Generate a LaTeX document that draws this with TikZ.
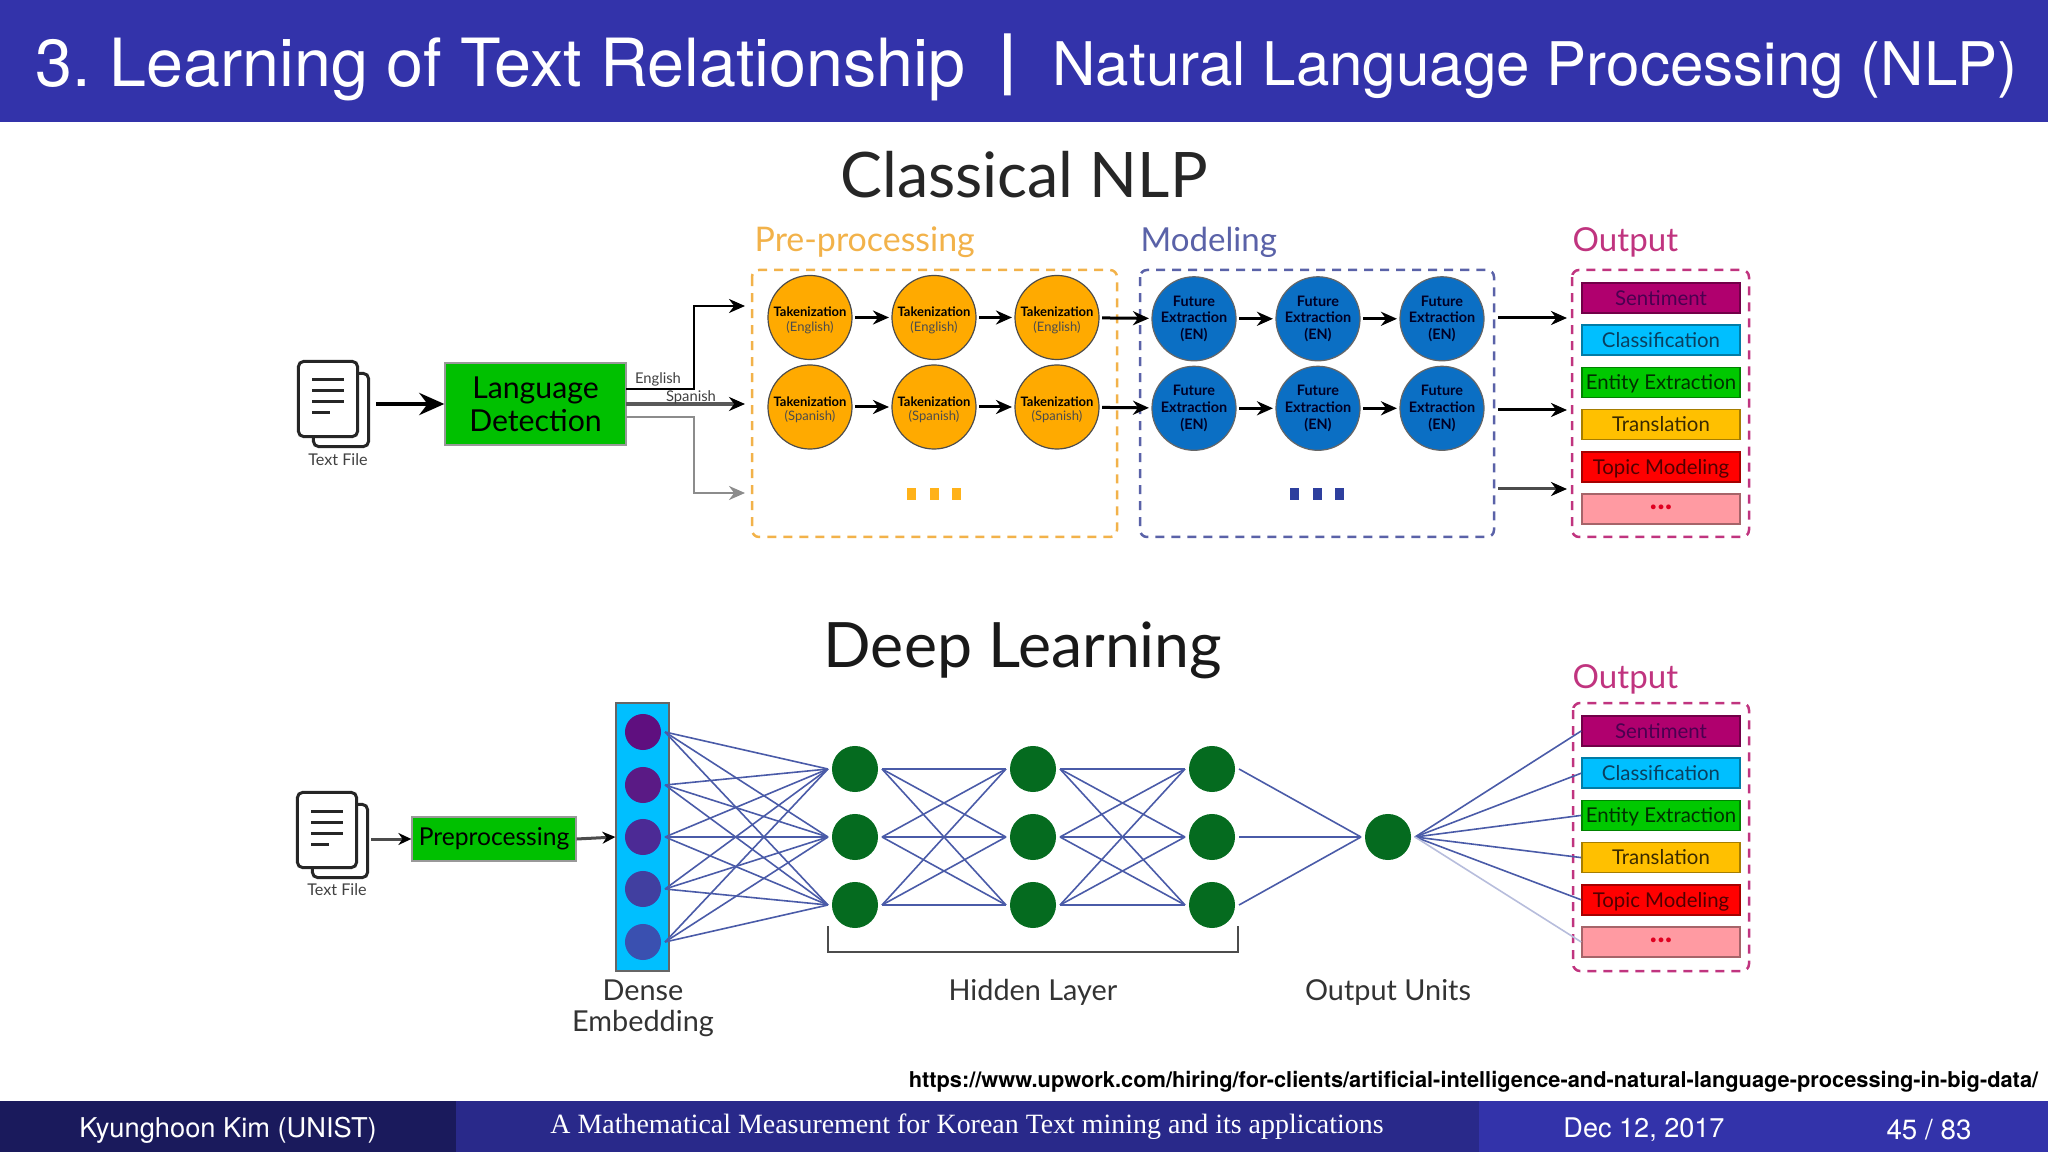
\documentclass[tikz,border=0pt]{standalone}
\usepackage{fontspec}
\usetikzlibrary{positioning,arrows.meta}
\newfontfamily\ralefont{Lato}
\newfontfamily\helvfont{TeX Gyre Heros}
\newfontfamily\slidefont{Liberation Serif}
\newcommand{\fsz}[1]{\fontsize{#1}{#1}\selectfont}
\newcommand{\moredots}{\raisebox{2pt}{\fsz{9}\textbf{...}}}
\definecolor{headblue}{HTML}{3333AA}
\definecolor{midblue}{HTML}{29298A}
\definecolor{darkblue}{HTML}{1A1A5C}
\definecolor{preorange}{HTML}{F2B24A}
\definecolor{tokorange}{HTML}{FFAA00}
\definecolor{modblue}{HTML}{5A62A8}
\definecolor{featblue}{HTML}{0B6FC4}
\definecolor{outpink}{HTML}{C0347F}
\definecolor{langgreen}{HTML}{00C000}
\definecolor{netgreen}{HTML}{056B1F}
\definecolor{netline}{HTML}{4A5BA8}
\definecolor{densecyan}{HTML}{00BFFF}
\definecolor{dotblue}{HTML}{2E3F9E}
\tikzset{
  arr/.style={draw=black, line width=.03cm, -{Stealth[length=.16cm,width=.14cm,color=black]}},
  smallarr/.style={draw=black!70, line width=.03cm, -{Stealth[length=.13cm,width=.12cm,color=black]}},
  bigarr/.style={draw=black, line width=.04cm, -{Stealth[length=.25cm,width=.22cm]}},
  sectlabel/.style={anchor=base west, inner sep=0pt, font=\ralefont\fsz{9.4}},
  dashbox/.style={draw, dashed, dash pattern=on .09cm off .07cm, line width=.025cm, rounded corners=.07cm},
  tok/.style={circle, draw=black!70, fill=tokorange, line width=.012cm, minimum size=.84cm, inner sep=0pt, outer sep=.03cm, align=center, font=\ralefont\fsz{3.7}},
  feat/.style={circle, draw=black!60, fill=featblue, line width=.012cm, minimum size=.84cm, inner sep=0pt, outer sep=.03cm, align=center, text=black!85!blue, font=\ralefont\bfseries\fontsize{4.1}{4.75}\selectfont},
  outitem/.style={rectangle, draw=fillc!65!black, line width=.015cm, minimum width=1.58cm, minimum height=.3cm, inner sep=0pt, text height=4.2pt, text depth=0pt, font=\ralefont\fsz{5.8}},
  netnode/.style={circle, fill=netgreen, minimum size=.46cm, inner sep=0pt, outer sep=.04cm},
  netedge/.style={draw=netline, line width=.016cm},
  docpage/.style={rectangle, draw=black!85, fill=white, line width=.03cm, rounded corners=.05cm, inner sep=0pt},
  capt/.style={inner sep=0pt, align=center, text=black!80, font=\ralefont\fontsize{8.2}{8.9}\selectfont},
}
% stack of result boxes, used twice
\newcommand{\outstack}[2]{
  \foreach \k/\lbl/\fc/\tc in {1/Sentiment/B0006E/4A0050, 2/Classification/00BFFF/0A3F5F, 3/Entity Extraction/00C800/003000, 4/Translation/FFC000/3A2A00, 5/Topic Modeling/FF0000/500000, 6/\moredots/FF9AA2/E00020} {
    \definecolor{fillc}{HTML}{\fc}
    \definecolor{textc}{HTML}{\tc}
    \node[outitem, fill=fillc, text=textc] (#1\k) at (1661,{#2+42.2*(\k-1)}) {\lbl};
  }
}
\newcommand{\docicon}[3]{
  \node[docpage, minimum width=.55cm, minimum height=.73cm] (#1back) at (#2+43,#3+48) {};
  \node[docpage, minimum width=.59cm, minimum height=.75cm] (#1front) at (#2+30,#3+37) {};
  \foreach \dy/\dx in {18/32,29/32,40/32,51/18}
    \draw[line width=.03cm, black!85] (#2+14,#3+\dy) -- (#2+14+\dx,#3+\dy);
}

\begin{document}
\begin{tikzpicture}[x=.01cm,y=-.01cm]
  \useasboundingbox (0,0) rectangle (2048,1152);

  % slide frame
  \fill[headblue] (0,0) rectangle (2048,122);
  \fill[darkblue] (0,1101) rectangle (456,1152);
  \fill[midblue] (456,1101) rectangle (1479,1152);
  \fill[headblue] (1479,1101) rectangle (2048,1152);
  \node[anchor=base west, inner sep=0pt, text=white, font=\helvfont\fsz{18.9}] (title) at (35,87) {3.\ Learning of Text Relationship};
  \node[inner sep=0pt, text=white, font=\helvfont\bfseries\fsz{19}] (titlebar) at (1008,65) {|};
  \node[anchor=base west, inner sep=0pt, text=white, font=\helvfont\fsz{17.1}] (subtitle) at (1052,86) {Natural Language Processing (NLP)};
  \node[inner sep=0pt, text=white, font=\helvfont\fsz{7.75}] (fauthor) at (228,1130) {Kyunghoon Kim (UNIST)};
  \node[inner sep=0pt, text=white, font=\slidefont\fsz{7.94}] (ftalk) at (967,1127) {A Mathematical Measurement for Korean Text mining and its applications};
  \node[inner sep=0pt, text=white, font=\helvfont\fsz{7.7}] (fdate) at (1644,1130) {Dec 12, 2017};
  \node[inner sep=0pt, text=white, font=\helvfont\fsz{7.9}] (fpage) at (1929,1130) {45 / 83};
  \node[anchor=east, inner sep=0pt, font=\helvfont\bfseries\fsz{6.2}] (furl) at (2039,1082) {https://www.upwork.com/hiring/for-clients/artificial-intelligence-and-natural-language-processing-in-big-data/};

  % classical part
  \node[inner sep=0pt, text=black!85, font=\ralefont\fsz{17.85}] (classic) at (1024,175) {Classical NLP};
  \node[sectlabel, text=preorange, font=\ralefont\fsz{9.65}] (prelab) at (754,252) {Pre-processing};
  \node[sectlabel, text=modblue] (modlab) at (1140,252) {Modeling};
  \node[sectlabel, text=outpink] (outlab) at (1572,252) {Output};
  \draw[dashbox, preorange] (752,270) rectangle (1117,537);
  \draw[dashbox, modblue] (1140,270) rectangle (1494,537);
  \draw[dashbox, outpink] (1572,270) rectangle (1749,537);

  \docicon{da}{298}{362}
  \node[inner sep=0pt, text=black!75, font=\ralefont\fsz{4.6}] (datxt) at (338,460) {Text File};
  \node[rectangle, draw=black!40, fill=langgreen, line width=.012cm, minimum width=1.81cm, minimum height=.82cm, inner sep=0pt, align=center, font=\ralefont\fontsize{8.6}{9.3}\selectfont] (lang) at (535.5,404) {Language\\Detection};
  \draw[bigarr] (daback.east |- lang.west) ++(6,0) -- (lang.west);

  \foreach \lng/\r/\y in {English/1/317.5, Spanish/2/407} {
    \foreach \c/\x in {1/810,2/934,3/1057}
      \node[tok] (p\r\c) at (\x,\y) {\rule{0pt}{4.3pt}\textbf{Takenization}\\[.45pt]\textcolor{black!70}{(\lng)}};
    \foreach \c/\x in {1/1194,2/1318,3/1442}
      \node[feat, yshift=-.013cm] (m\r\c) at (\x,\y) {Future\\Extraction\\(EN)};
    \draw[arr] (p\r1) -- (p\r2);
    \draw[arr] (p\r2) -- (p\r3);
    \draw[arr] (p\r3) -- (m\r1);
    \draw[arr] (m\r1) -- (m\r2);
    \draw[arr] (m\r2) -- (m\r3);
  }

  % language branches
  \coordinate (enA) at (626,389);
  \coordinate (enB) at (745,306);
  \coordinate (esA) at (626,404);
  \coordinate (esB) at (745,404);
  \coordinate (otA) at (626,417);
  \coordinate (otB) at (745,493);
  \draw[arr, line width=.025cm] (enA) -- (694,389) |- (enB);
  \draw[arr, draw=black!65, line width=.035cm] (esA) -- (esB);
  \draw[draw=black!45, line width=.025cm, -{Stealth[length=.16cm,width=.14cm]}] (otA) -- (694,417) |- (otB);
  \node[inner sep=0pt, text=black!75, font=\ralefont\fsz{4.2}] (enlab) at (658,379) {English};
  \node[inner sep=0pt, text=black!75, font=\ralefont\fsz{4.2}] (eslab) at (691,397) {Spanish};

  % more rows
  \foreach \i/\x in {1/911,2/934,3/956}
    \fill[tokorange!90!white] (\x-4.5,488) rectangle (\x+4.5,500);
  \foreach \i/\x in {1/1294,2/1317,3/1339}
    \fill[dotblue] (\x-4.5,488) rectangle (\x+4.5,500);

  \outstack{a}{298}
  \coordinate (mrA) at (1498,318);
  \coordinate (mrB) at (1567,318);
  \coordinate (msA) at (1498,410);
  \coordinate (msB) at (1567,410);
  \coordinate (mtA) at (1498,489);
  \coordinate (mtB) at (1567,489);
  \draw[arr] (mrA) -- (mrB);
  \draw[arr] (msA) -- (msB);
  \draw[arr, draw=black!70] (mtA) -- (mtB);

  % deep learning part
  \node[inner sep=0pt, text=black!90, font=\ralefont\fsz{17.8}] (deep) at (1023,650) {Deep Learning};
  \node[sectlabel, text=outpink] (outlabb) at (1572,688) {Output};
  \draw[dashbox, outpink] (1573,703) rectangle (1749,971);

  \docicon{db}{297}{793}
  \node[inner sep=0pt, text=black!75, font=\ralefont\fsz{4.6}] (dbtxt) at (337,890) {Text File};
  \node[rectangle, draw=black!40, fill=langgreen, line width=.012cm, minimum width=1.64cm, minimum height=.44cm, inner sep=0pt, font=\ralefont\fsz{7}] (prep) at (494,839) {Preprocessing};
  \node[rectangle, draw=black!60, fill=densecyan, line width=.012cm, minimum width=.53cm, minimum height=2.68cm, inner sep=0pt] (dense) at (642.5,837) {};
  \draw[smallarr] (dbback.east |- prep.west) ++(2,0) -- (prep.west);
  \draw[smallarr] (prep.east) -- (dense.west);

  \foreach \i/\y/\cc in {1/732/5F0F7F, 2/785/5A1A85, 3/837/4C2A95, 4/889/413FA0, 5/942/3A50B0} {
    \definecolor{densec}{HTML}{\cc}
    \node[circle, fill=densec, minimum size=.36cm, inner sep=0pt, outer sep=.04cm] (d\i) at (643,\y) {};
  }
  \foreach \c/\x in {1/855,2/1033,3/1212}
    \foreach \i/\y in {1/769,2/837,3/905}
      \node[netnode] (h\c\i) at (\x,\y) {};
  \node[netnode] (ou) at (1388,837) {};

  \foreach \i in {1,...,5}
    \foreach \j in {1,2,3}
      \draw[netedge] (d\i.east) -- (h1\j.west);
  \foreach \i in {1,2,3}
    \foreach \j in {1,2,3} {
      \draw[netedge] (h1\i.east) -- (h2\j.west);
      \draw[netedge] (h2\i.east) -- (h3\j.west);
    }
  \foreach \i in {1,2,3}
    \draw[netedge] (h3\i.east) -- (ou.west);

  \outstack{b}{731}
  \foreach \k in {1,...,5}
    \draw[netedge] (ou.east) -- (b\k.west);
  \draw[netedge, draw=netline!40] (ou.east) -- (b6.west);

  \coordinate (brA) at (828,926);
  \coordinate (brB) at (1238,926);
  \draw[black!70, line width=.028cm] (brA) -- ++(0,26) -| (brB);
  \node[capt] (denselab) at (643,1008) {Dense\\Embedding};
  \node[capt] (hidlab) at (1033,992) {Hidden Layer};
  \node[capt] (ouplab) at (1388,992) {Output Units};
\end{tikzpicture}
\end{document}
